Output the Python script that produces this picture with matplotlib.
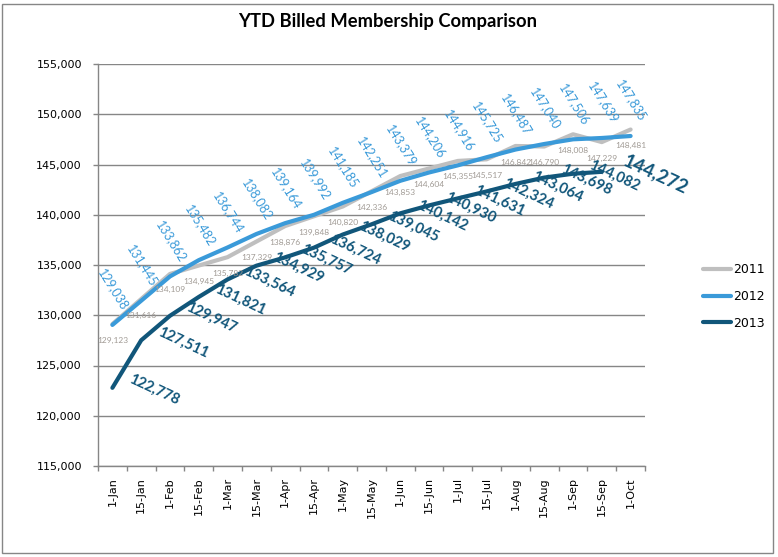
import matplotlib
matplotlib.use("Agg")
import matplotlib.pyplot as plt
from matplotlib.patches import Rectangle
import numpy as np

categories = ["1-Jan", "15-Jan", "1-Feb", "15-Feb", "1-Mar", "15-Mar", "1-Apr", "15-Apr",
              "1-May", "15-May", "1-Jun", "15-Jun", "1-Jul", "15-Jul", "1-Aug", "15-Aug",
              "1-Sep", "15-Sep", "1-Oct"]

y2011 = [129123, 131616, 134109, 134945, 135782, 137329, 138876, 139848, 140820, 142336,
         143853, 144604, 145355, 145517, 146842, 146790, 148008, 147229, 148481]
y2012 = [129038, 131445, 133862, 135482, 136744, 138082, 139164, 139992, 141185, 142251,
         143379, 144206, 144916, 145725, 146487, 147040, 147506, 147639, 147835]
y2013 = [122778, 127511, 129947, 131821, 133564, 134929, 135757, 136724, 138029, 139045,
         140142, 140930, 141631, 142324, 143064, 143698, 144082, 144272]

series_names = ["2011", "2012", "2013"]
y_ticks = [115000, 120000, 125000, 130000, 135000, 140000, 145000, 150000, 155000]

c2011 = "#BFBFBF"
c2012 = "#3A9AD9"
c2013 = "#11567A"
grid_c = "#868686"

fig = plt.figure(figsize=(7.78, 5.57), dpi=100)
ax = fig.add_axes([98/778, 1-466/557, 547/778, 402/557])

x11 = np.arange(len(y2011))
x12 = np.arange(len(y2012))
x13 = np.arange(len(y2013))

ax.plot(x11, y2011, color=c2011, lw=3, solid_capstyle="round", solid_joinstyle="round", zorder=3, label=series_names[0])
ax.plot(x12, y2012, color=c2012, lw=3, solid_capstyle="round", solid_joinstyle="round", zorder=4, label=series_names[1])
ax.plot(x13, y2013, color=c2013, lw=3, solid_capstyle="round", solid_joinstyle="round", zorder=5, label=series_names[2])

# data labels
for xi, v in zip(x11, y2011):
    ax.annotate(f"{v:,}", (xi, v), xytext=(0, -16), textcoords="offset pixels",
                ha="center", va="center", fontsize=6, color="#A09A94",
                family="Lato", zorder=6)
for xi, v in zip(x12, y2012):
    ax.annotate(f"{v:,}", (xi, v), xytext=(1, 35), textcoords="offset pixels",
                ha="center", va="center", fontsize=9, color=c2012, rotation=-58,
                family="Lato", zorder=6)
for i, (xi, v) in enumerate(zip(x13, y2013)):
    last = i == len(y2013) - 1
    ax.annotate(f"{v:,}", (xi, v), xytext=(17, 9) if not last else (22, 12),
                textcoords="offset pixels",
                ha="left", va="center", rotation=-25, rotation_mode="anchor",
                fontsize=10.5 if not last else 13.5, color=c2013, fontweight="bold",
                family="Lato", zorder=7)

ax.set_xlim(-0.5, len(categories) - 0.5)
ax.set_ylim(y_ticks[0], y_ticks[-1])
ax.set_yticks(y_ticks)
ax.set_yticklabels([f"{t:,}" for t in y_ticks], fontsize=8, family="DejaVu Sans")
ax.set_xticks(np.arange(len(categories)))
ax.set_xticklabels(categories, rotation=90, fontsize=8, family="DejaVu Sans")
ax.set_xticks(np.arange(len(categories) + 1) - 0.5, minor=True)
ax.tick_params(axis="x", which="major", length=0, pad=8)
ax.tick_params(axis="x", which="minor", length=3.6, color=grid_c, width=1)
ax.tick_params(axis="y", length=3.6, color=grid_c, width=1, pad=8)

ax.grid(axis="y", color=grid_c, lw=1)
ax.set_axisbelow(True)
for s in ["top", "right"]:
    ax.spines[s].set_visible(False)
for s in ["left", "bottom"]:
    ax.spines[s].set_color(grid_c)
    ax.spines[s].set_linewidth(1)

fig.text(388/778, 1-22/557, "YTD Billed Membership Comparison", ha="center", va="center",
         fontsize=13.2, fontweight="bold", family="Lato")

leg = ax.legend(loc="upper left", bbox_to_anchor=(692/778, 1-252/557), bbox_transform=fig.transFigure,
                frameon=False, handlelength=2.2, handletextpad=0.15,
                labelspacing=1.1, prop={"family": "DejaVu Sans", "size": 9})

fig.patches.append(Rectangle((2/778, 4/557), 771/778, 549/557, transform=fig.transFigure,
                             fill=False, edgecolor=grid_c, lw=1))

fig.savefig("out.png", dpi=100)
